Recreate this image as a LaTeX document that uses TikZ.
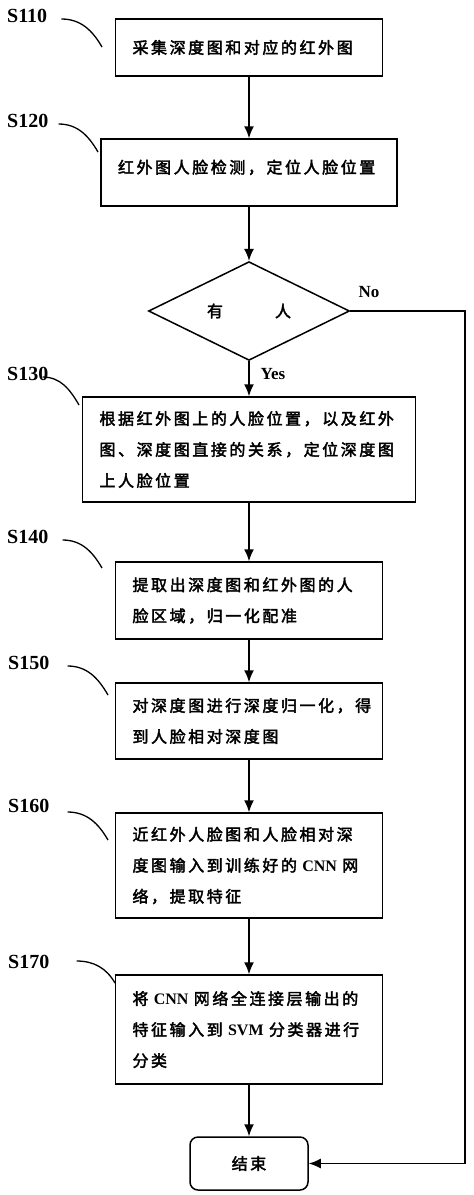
\documentclass[tikz,border=0pt]{standalone}
\usepackage{fontspec}
\setmainfont{Liberation Serif}
\newfontfamily\cjk{Noto Sans CJK SC}[FakeBold=2.5,LetterSpace=16]
\newcommand{\en}[1]{{\rmfamily\bfseries #1}}
\usetikzlibrary{shapes.geometric,arrows.meta}

\begin{document}
\begin{tikzpicture}[x=1bp,y=-1bp,
	stepbox/.style={draw,line width=1.5bp,inner xsep=17bp,inner ysep=0pt,align=left,
		font=\cjk\fontsize{16bp}{31bp}\selectfont},
	decision/.style={draw,line width=1.5bp,diamond,inner sep=0pt,
		minimum width=201bp,minimum height=85bp,font=\cjk\fontsize{16bp}{31bp}\selectfont},
	endbox/.style={draw,line width=1.5bp,rounded corners=8bp,
		minimum width=118bp,minimum height=53bp,font=\cjk\fontsize{16bp}{31bp}\selectfont},
	steplabel/.style={anchor=west,inner sep=0pt,font=\fontsize{20bp}{20bp}\selectfont\bfseries},
	yn/.style={inner sep=0pt,font=\fontsize{17bp}{17bp}\selectfont\bfseries},
	flow/.style={line width=1.5bp,-{Latex[length=12bp,width=10bp]}},
	hook/.style={line width=1.3bp}]
	\useasboundingbox (0,0) rectangle (474,1195);
	%
	\node[stepbox,text width=233bp,minimum height=57bp] (b110) at (249,47.5) {采集深度图和对应的红外图};
	\node[stepbox,text width=262bp,minimum height=67bp,text depth=12bp] (b120) at (249,172.5) {红外图人脸检测，定位人脸位置};
	\node[decision] (d) at (249,311) {有\hspace{52bp}人};
	\node[stepbox,text width=299bp,minimum height=105bp] (b130) at (249,449.5) {根据红外图上的人脸位置，以及红外\\图、深度图直接的关系，定位深度图\\上人脸位置};
	\node[stepbox,text width=233bp,minimum height=77bp] (b140) at (249,600.5) {提取出深度图和红外图的人\\脸区域，归一化配准};
	\node[stepbox,text width=233bp,minimum height=76bp] (b150) at (249,721) {对深度图进行深度归一化，得\\到人脸相对深度图};
	\node[stepbox,text width=233bp,minimum height=105bp] (b160) at (249,865.5) {近红外人脸图和人脸相对深\\度图输入到训练好的 \en{CNN} 网\\络，提取特征};
	\node[stepbox,text width=233bp,minimum height=109bp] (b170) at (249,1029.5) {将 \en{CNN} 网络全连接层输出的\\特征输入到 \en{SVM} 分类器进行\\分类};
	\node[endbox] (end) at (249,1163.5) {结束};
	%
	\node[steplabel] (l110) at (7,16) {S110};
	\node[steplabel] (l120) at (7,121) {S120};
	\node[steplabel] (l130) at (7,374) {S130};
	\node[steplabel] (l140) at (7,537) {S140};
	\node[steplabel] (l150) at (8,663) {S150};
	\node[steplabel] (l160) at (8,806) {S160};
	\node[steplabel] (l170) at (8,962) {S170};
	\node[yn] (yes) at (273,374) {Yes};
	\node[yn] (no) at (369,292) {No};
	%
	\coordinate (c110) at (102,47);
	\coordinate (c120) at (98,152);
	\coordinate (c130) at (79,405);
	\coordinate (c140) at (102,568);
	\coordinate (c150) at (108,695);
	\coordinate (c160) at (108,840);
	\coordinate (c170) at (115,983);
	\coordinate (right) at (465,0);
	%
	\draw[hook] ([shift={(14,3)}]l110.east) to[out=0,in=120] (c110);
	\draw[hook] ([shift={(10,3)}]l120.east) to[out=0,in=120] (c120);
	\draw[hook] ([shift={(-6,3)}]l130.east) to[out=0,in=120] (c130);
	\draw[hook] ([shift={(14,3)}]l140.east) to[out=0,in=120] (c140);
	\draw[hook] ([shift={(18,3)}]l150.east) to[out=0,in=120] (c150);
	\draw[hook] ([shift={(18,6)}]l160.east) to[out=0,in=120] (c160);
	\draw[hook] ([shift={(27,-1)}]l170.east) to[out=0,in=120] (c170);
	%
	\draw[flow] (b110) -- (b120);
	\draw[flow] (b120) -- (d);
	\draw[flow] (d) -- (b130);
	\draw[flow] (b130) -- (b140);
	\draw[flow] (b140) -- (b150);
	\draw[flow] (b150) -- (b160);
	\draw[flow] (b160) -- (b170);
	\draw[flow] (b170) -- (end);
	\draw[flow] (d.east) -- (d.east -| right) |- (end.east);
	%
\end{tikzpicture}
\end{document}
